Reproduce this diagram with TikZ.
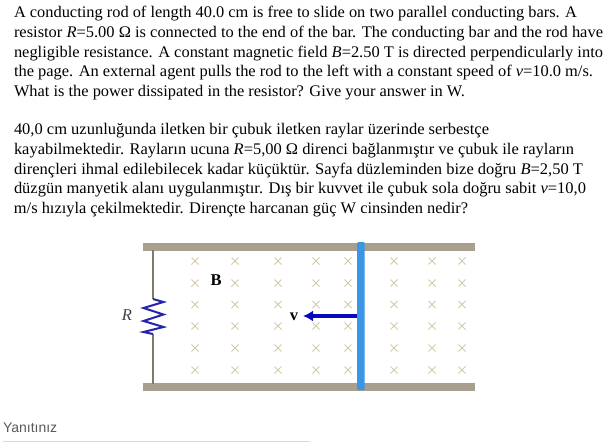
\documentclass[tikz,border=0pt]{standalone}
\usepackage{fontspec}
\setmainfont{Liberation Serif}
\newfontfamily\uifont{Liberation Sans}
\definecolor{railc}{HTML}{A89F8E}
\definecolor{rodc}{HTML}{3A96E6}
\definecolor{arrowc}{HTML}{0808C0}
\definecolor{resc}{HTML}{2424B0}
\definecolor{wirec}{HTML}{7F7A70}
\definecolor{crossc}{HTML}{D6CBA6}
\definecolor{textc}{HTML}{000000}
\newcommand{\tline}[5]{\node[qline] (#1) at (#2,#3) {\resizebox{\dimexpr #4pt-#2pt\relax}{\height}{\fontsize{16.2}{19}\selectfont\color{textc}#5}};}
\tikzset{
  qline/.style={inner sep=0pt,outer sep=0pt,anchor=base west},
  rail/.style={fill=railc,draw=none,inner sep=0pt,minimum width=332pt,minimum height=7.5pt,anchor=north west},
  rodbar/.style={fill=rodc,draw=none,inner sep=0pt,minimum width=7.5pt,minimum height=148pt,anchor=north west,rounded corners=1pt},
  wire/.style={draw=wirec,line width=1.5pt},
  resistor/.style={draw=resc,line width=2pt,line join=miter},
  crossmark/.style={draw=crossc,line width=0.9pt},
  speed/.style={draw=arrowc,line width=4.5pt,-{Latex[length=10pt,width=11pt]}},
  lab/.style={inner sep=0pt,font=\fontsize{16.5}{18}\selectfont\bfseries,text=textc}
}
\usetikzlibrary{arrows.meta}
\begin{document}
\begin{tikzpicture}[x=1pt,y=-1pt]
\useasboundingbox[fill=white] (0,0) rectangle (607,442);
\tline{a1}{14}{17.5}{577}{A conducting rod of length 40.0 cm is free to slide on two parallel conducting bars. A}
\tline{a2}{14}{37}{603}{resistor \textit{R}=5.00 Ω is connected to the end of the bar. The conducting bar and the rod have}
\tline{a3}{14}{57}{603}{negligible resistance. A constant magnetic field \textit{B}=2.50 T is directed perpendicularly into}
\tline{a4}{14}{76.5}{593}{the page. An external agent pulls the rod to the left with a constant speed of \textit{v}=10.0 m/s.}
\tline{a5}{14}{96}{465}{What is the power dissipated in the resistor? Give your answer in W.}
\tline{b1}{14}{134.5}{489}{40,0 cm uzunluğunda iletken bir çubuk iletken raylar üzerinde serbestçe}
\tline{b2}{14}{154}{574}{kayabilmektedir. Rayların ucuna \textit{R}=5,00 Ω direnci bağlanmıştır ve çubuk ile rayların}
\tline{b3}{14}{174}{583}{dirençleri ihmal edilebilecek kadar küçüktür. Sayfa düzleminden bize doğru \textit{B}=2,50 T}
\tline{b4}{14}{193.5}{586}{düzgün manyetik alanı uygulanmıştır. Dış bir kuvvet ile çubuk sola doğru sabit \textit{v}=10,0}
\tline{b5}{14}{213}{468}{m/s hızıyla çekilmektedir. Dirençte harcanan güç W cinsinden nedir?}
% crosses
\foreach \cx in {195,235,278,316,348,394,432,462}
  \foreach \cy in {261,283,304.5,326,348,370}
    \draw[crossmark] (\cx-3.5,\cy-3.5) -- (\cx+3.5,\cy+3.5) (\cx-3.5,\cy+3.5) -- (\cx+3.5,\cy-3.5);
% rails
\node[rail] (toprail) at (143,243) {};
\node[rail] (botrail) at (143,383) {};
% left wire and resistor
\coordinate (rtop) at (153,299);
\coordinate (rbot) at (153,334);
\draw[wire] (153,250) -- (rtop);
\draw[wire] (rbot) -- (153,384);
\draw[resistor] (rtop) -- (163.5,302) -- (143.5,308) -- (163.5,314.5) -- (143.5,321) -- (163.5,327) -- (143.5,332) -- (rbot);
% rod
\node[rodbar] (rod) at (357,242) {};
% velocity arrow
\coordinate (vtip) at (303,316);
\draw[speed] (rod.west |- vtip) -- (vtip);
% labels
\node[lab] (blabel) at (216,280) {B};
\node[lab] (vlabel) at (294,316.5) {v};
\node[inner sep=0pt,font=\fontsize{16.5}{18}\selectfont\itshape,text=black!75] (rlabel) at (127,315) {R};
\node[qline,font=\uifont\fontsize{14}{16}\selectfont,text=black!65] (yan) at (3,432) {Yanıtınız};
\coordinate (ls) at (3,441);
\coordinate (le) at (310,441);
\draw[black!15,line width=0.8pt] (ls) -- (le);
\end{tikzpicture}
\end{document}
